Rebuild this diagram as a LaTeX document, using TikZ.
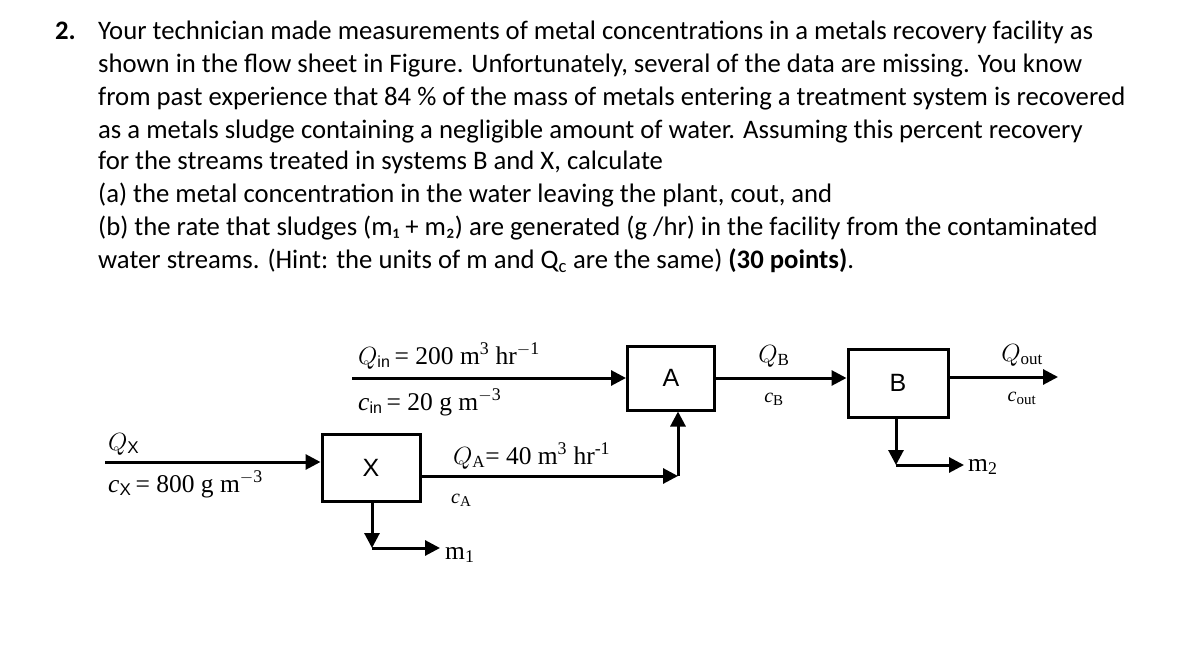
\documentclass[tikz,border=0pt]{standalone}
\usepackage{fontspec}
\setmainfont{Carlito}
\newfontfamily\ser{Liberation Serif}
\newfontfamily\ari{Liberation Sans}
\usetikzlibrary{arrows.meta}
\begin{document}
\begin{tikzpicture}[x=1pt,y=-1pt,
 txt/.style={anchor=base west,inner sep=0pt,font=\fontsize{26.7}{30}\selectfont},
 box/.style={draw,line width=3pt,minimum width=#1,inner sep=0pt,font=\ari\fontsize{25}{28}\selectfont},
 flow/.style={line width=3pt,-{Triangle[length=15pt,width=15pt]}},
 lab/.style={inner sep=0pt,font=\ser\fontsize{25.5}{28}\selectfont},
 sl/.style={inner sep=0pt,font=\ser\fontsize{20}{22}\selectfont}]
\useasboundingbox (0,0) rectangle (1194,652);
\node[txt] (n2) at (55,40) {\textbf{2.}};
\node[txt] (l1) at (98,40) {Your technician made measurements of metal concentrations in a metals recovery facility as};
\node[txt] (l2) at (98,73) {shown in the flow sheet in Figure. Unfortunately, several of the data are missing. You know};
\node[txt] (l3) at (98,106) {from past experience that 84 \% of the mass of metals entering a treatment system is recovered};
\node[txt] (l4) at (98,139) {as a metals sludge containing a negligible amount of water. Assuming this percent recovery};
\node[txt] (l5) at (98,170) {for the streams treated in systems B and X, calculate};
\node[txt] (l6) at (98,203) {(a) the metal concentration in the water leaving the plant, cout, and};
\node[txt] (l7) at (98,236) {(b) the rate that sludges (m₁ + m₂) are generated (g /hr) in the facility from the contaminated};
\node[txt] (l8) at (98,269) {water streams. (Hint: the units of m and Q\textsubscript{c} are the same) \textbf{(30 points)}.};

\node[box=98pt,minimum height=67pt] (X) at (371,468) {X};
\node[box=87pt,minimum height=64pt] (A) at (671,378) {A};
\node[box=100pt,minimum height=68pt] (B) at (898,383) {B};

\coordinate (qin) at (352,378);
\coordinate (qx) at (105,462);
\coordinate (corA) at (678,476);
\coordinate (out) at (1058,377);
\coordinate (xd) at (372,548);
\coordinate (m1e) at (440,548);
\coordinate (bd) at (896,465);
\coordinate (m2e) at (964,465);

\draw[flow] (qin) -- (A.west|-qin);
\draw[flow] (qx) -- (X.west|-qx);
\draw[flow] (X.east|-corA) -- (corA);
\draw[flow] (corA) -- (A.south-|corA);
\draw[flow] (A.east|-qin) -- (B.west|-qin);
\draw[flow] (B.east|-out) -- (out);
\draw[flow] (X.south-|xd) -- (xd);
\draw[flow] (xd) -- (m1e);
\draw[flow] (B.south-|bd) -- (bd);
\draw[flow] (bd) -- (m2e);

\node[lab,anchor=base west] (tqin) at (358,364) {$Q$\textsubscript{\ari\fontsize{16}{18}\selectfont in}\,= 200 m\textsuperscript{3} hr\textsuperscript{$-$1}};
\node[lab,anchor=base west] (tcin) at (358,410) {\textit{c}\textsubscript{\ari\fontsize{16}{18}\selectfont in}\,= 20 g m\textsuperscript{$-$3}};
\node[lab,anchor=base west] (tqx) at (108,450) {$Q$\textsubscript{\ari\fontsize{17}{18}\selectfont X}};
\node[lab,anchor=base west] (tcx) at (108,492) {\textit{c}\textsubscript{\ari\fontsize{17}{18}\selectfont X}\,= 800 g m\textsuperscript{$-$3}};
\node[lab,anchor=base west] (tqa) at (453,464) {$Q$\textsubscript{\ser\fontsize{17}{18}\selectfont A}= 40 m\textsuperscript{3} hr\textsuperscript{-1}};
\node[sl,anchor=base west] (tca) at (451,503) {\textit{c}\textsubscript{\ser\fontsize{15}{16}\selectfont A}};
\node[lab,anchor=base] (tqb) at (774,362) {$Q$\textsubscript{\ser\fontsize{17}{18}\selectfont B}};
\node[sl,anchor=base] (tcb) at (774,402) {\textit{c}\textsubscript{\ser\fontsize{15}{16}\selectfont B}};
\node[lab,anchor=base] (tqo) at (1022,361) {$Q$\textsubscript{\ser\fontsize{17}{18}\selectfont out}};
\node[sl,anchor=base] (tco) at (1022,401) {\textit{c}\textsubscript{\ser\fontsize{15}{16}\selectfont out}};
\node[lab,anchor=base west] (tm1) at (445,559) {m\textsubscript{1}};
\node[lab,anchor=base west] (tm2) at (968,471) {m\textsubscript{2}};
\end{tikzpicture}
\end{document}
